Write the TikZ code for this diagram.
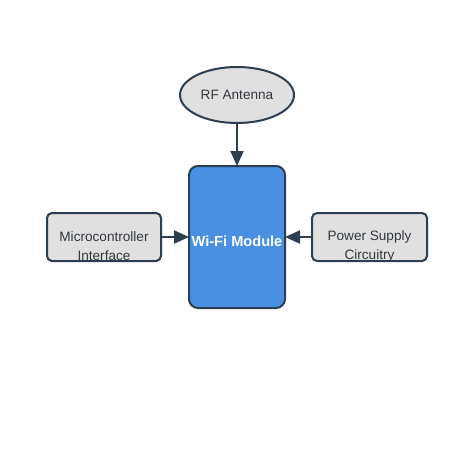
\documentclass[tikz,border=0pt]{standalone}
\usepackage{fontspec}
\setmainfont{Liberation Sans}
\usetikzlibrary{arrows.meta}
\definecolor{strokec}{HTML}{2C3E50}
\definecolor{greyfill}{HTML}{E0E0E0}
\definecolor{bluefill}{HTML}{4A90E2}
\definecolor{textc}{HTML}{333840}
\tikzset{
  greybox/.style={draw=strokec, line width=2pt, fill=greyfill, rounded corners=5pt},
  conn/.style={draw=strokec, line width=2pt, -{Triangle[length=15pt,width=13pt]}},
  lbl/.style={text=textc, font=\fontsize{13.6}{19}\selectfont, align=center, inner sep=0pt}
}
\begin{document}
\begin{tikzpicture}[x=1pt,y=-1pt]
\useasboundingbox[fill=white] (0,0) rectangle (474,474);
% nodes
\draw[greybox] (237,95) ellipse [x radius=57, y radius=28];
\node[lbl] (ant) at (237,95) {RF Antenna};
\coordinate (antb) at (237,123);
\draw[draw=strokec, line width=2pt, fill=bluefill, rounded corners=9pt] (189,166) rectangle (285,308);
\node[inner sep=0pt, text=white, font=\bfseries\fontsize{14.6}{18}\selectfont] (wifi) at (237,241) {Wi-Fi Module};
\coordinate (wt) at (237,166);
\coordinate (wl) at (189,237);
\coordinate (wr) at (285,237);
\draw[greybox] (47,213) rectangle (161,261);
\node[lbl] (mcu) at (104,246.5) {Microcontroller\\Interface};
\coordinate (mcur) at (161,237);
\draw[greybox] (312,213) rectangle (427,261);
\node[lbl] (psu) at (369.5,246.5) {Power Supply\\Circuitry};
\coordinate (psul) at (312,237);
% connectors
\draw[conn] (antb) -- (wt);
\draw[conn] (mcur) -- (wl);
\draw[conn] (psul) -- (wr);
\end{tikzpicture}
\end{document}
